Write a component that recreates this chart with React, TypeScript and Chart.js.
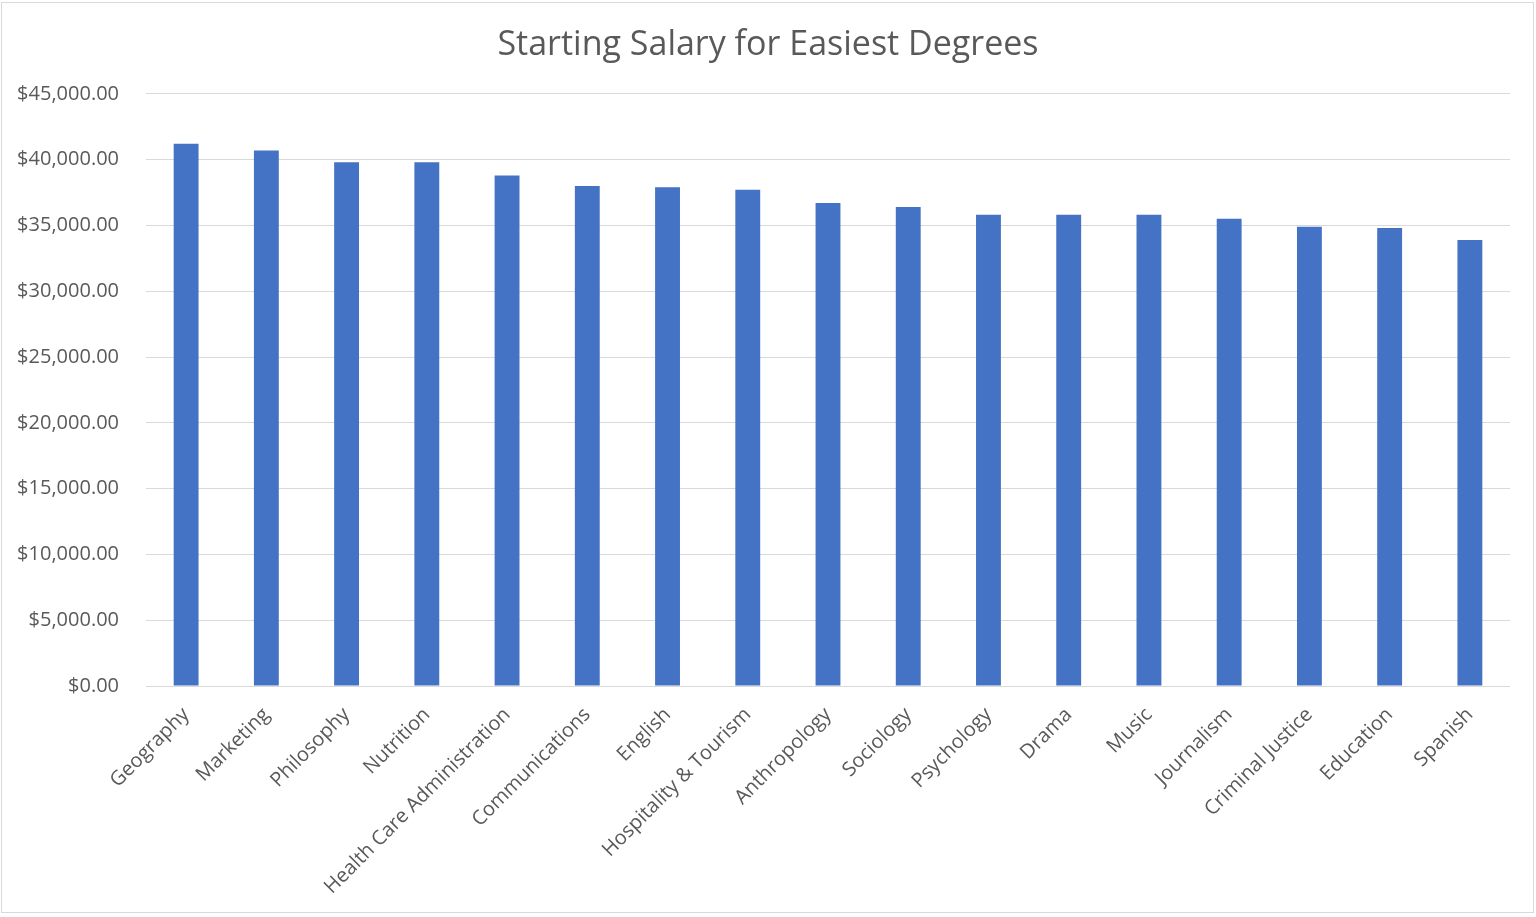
import React, { useEffect, useRef } from "react";
import { Chart, registerables } from "chart.js";

Chart.register(...registerables);

const categories = [
  "Geography",
  "Marketing",
  "Philosophy",
  "Nutrition",
  "Health Care Administration",
  "Communications",
  "English",
  "Hospitality & Tourism",
  "Anthropology",
  "Sociology",
  "Psychology",
  "Drama",
  "Music",
  "Journalism",
  "Criminal Justice",
  "Education",
  "Spanish",
];

const salaries = [
  41200, 40700, 39800, 39800, 38800, 38000, 37900, 37700, 36700, 36400, 35800,
  35800, 35800, 35500, 34900, 34800, 33900,
];

const yMin = 0;
const yMax = 45000;
const yStep = 5000;

const titleText = "Starting Salary for Easiest Degrees";
const FONT = "'Open Sans', 'DejaVu Sans', sans-serif";
const TEXT = "#595959";

export default function App() {
  const ref = useRef<HTMLCanvasElement | null>(null);

  useEffect(() => {
    document.body.style.margin = "0";
    const ctx = ref.current;
    if (!ctx) return;
    const chart = new Chart(ctx, {
      type: "bar",
      data: {
        labels: categories,
        datasets: [
          {
            label: "Starting Salary",
            data: salaries,
            backgroundColor: "#4472C4",
            borderWidth: 0,
            categoryPercentage: 1,
            barPercentage: 0.31,
          },
        ],
      },
      options: {
        animation: false,
        responsive: false,
        maintainAspectRatio: false,
        layout: { padding: { left: 0, right: 0, top: 0, bottom: 0 } },
        plugins: {
          legend: { display: false },
          tooltip: { enabled: false },
          title: {
            display: true,
            text: titleText,
            color: TEXT,
            font: { family: FONT, size: 34, weight: "normal" },
            padding: { top: 25, bottom: 28 },
          },
        },
        scales: {
          x: {
            grid: { display: false, drawTicks: false },
            border: { display: false },
            ticks: {
              color: TEXT,
              font: { family: FONT, size: 20 },
              maxRotation: 45,
              minRotation: 45,
              autoSkip: false,
              padding: 17,
            },
            afterFit: (scale: any) => {
              scale.height = 231;
            },
          },
          y: {
            min: yMin,
            max: yMax,
            grid: { color: "#d9d9d9", lineWidth: 1, drawTicks: false },
            border: { display: false },
            ticks: {
              stepSize: yStep,
              color: TEXT,
              font: { family: FONT, size: 20 },
              padding: 27,
              callback: (v: any) =>
                "$" +
                Number(v).toLocaleString("en-US", {
                  minimumFractionDigits: 2,
                  maximumFractionDigits: 2,
                }),
            },
            afterFit: (scale: any) => {
              scale.width = 146;
            },
          },
          yRight: {
            position: "right",
            display: true,
            grid: { display: false, drawTicks: false },
            border: { display: false },
            ticks: { display: false },
            afterFit: (scale: any) => {
              scale.width = 26;
            },
          },
        },
      },
    });
    return () => chart.destroy();
  }, []);

  return (
    <div style={{ position: "relative", width: 1536, height: 917, background: "#fff" }}>
      <canvas ref={ref} width={1536} height={917} style={{ display: "block" }} />
      <div
        style={{
          position: "absolute",
          left: 1,
          top: 2,
          width: 1531,
          height: 909,
          border: "1px solid #d9d9d9",
          pointerEvents: "none",
        }}
      />
    </div>
  );
}
